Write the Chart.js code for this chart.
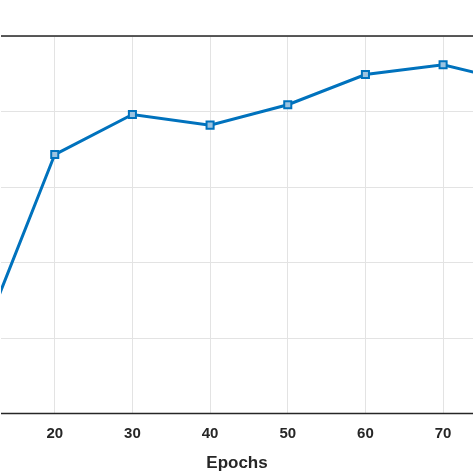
<!DOCTYPE html>
<html><head>
<script src="https://cdn.jsdelivr.net/npm/chart.js@4"></script>
<style>
html,body{margin:0;padding:0;background:#fff;overflow:hidden}
#wrap{width:486px;height:474px;position:relative;margin-left:-6px}
</style>
</head><body>
<div id="wrap"><canvas id="c"></canvas></div>
<script>
// epochs and accuracy-like values (axis labels of y are cropped out of the picture)
const epochs = [10, 20, 30, 40, 50, 60, 70, 80];
const values = [0.83, 3.43, 3.96, 3.82, 4.09, 4.49, 4.62, 4.37];
const xTicks = [20, 30, 40, 50, 60, 70];
const yTicks = [0, 1, 2, 3, 4, 5];

const frame = {
  id: 'frame',
  afterDraw(ch){
    const a = ch.chartArea, ctx = ch.ctx;
    ctx.save();
    ctx.strokeStyle = '#262626'; ctx.lineWidth = 1.5;
    ctx.beginPath();
    ctx.moveTo(a.left, a.top); ctx.lineTo(a.right, a.top);
    ctx.moveTo(a.left, a.bottom); ctx.lineTo(a.right, a.bottom);
    ctx.stroke();
    ctx.restore();
  }
};

new Chart(document.getElementById('c'), {
  type: 'line',
  data: {
    datasets: [{
      data: epochs.map((e,i)=>({x:e, y:values[i]})),
      borderColor: '#0072BD',
      borderWidth: 3,
      pointStyle: 'rect',
      pointRadius: 5,
      pointBorderWidth: 2,
      pointBackgroundColor: '#9cc3e0',
      pointBorderColor: '#0072BD',
      tension: 0
    }]
  },
  options: {
    responsive: true, maintainAspectRatio: false, animation: false,
    layout: { padding: { top: 36, left: 0, right: 0, bottom: 0 } },
    plugins: { legend: { display: false }, tooltip: { enabled: false } },
    scales: {
      x: {
        type: 'linear', min: 13.08, max: 73.85,
        afterBuildTicks: s => { s.ticks = xTicks.map(v=>({value:v})); },
        grid: { color: '#e3e3e3', drawTicks: false },
        border: { display: false },
        ticks: { color: '#262626', padding: 11, font: { family: 'Liberation Sans', size: 15, weight: 'bold' } },
        title: { display: true, text: 'Epochs', color: '#262626', padding: {top: 0, bottom: 0},
                 font: { family: 'Liberation Sans', size: 17, weight: 'bold' } }
      },
      y: {
        min: 0, max: 5,
        afterBuildTicks: s => { s.ticks = yTicks.map(v=>({value:v})); },
        grid: { color: '#e3e3e3', drawTicks: false },
        border: { display: false },
        ticks: { display: false }
      }
    }
  },
  plugins: [frame]
});
</script>
</body></html>
